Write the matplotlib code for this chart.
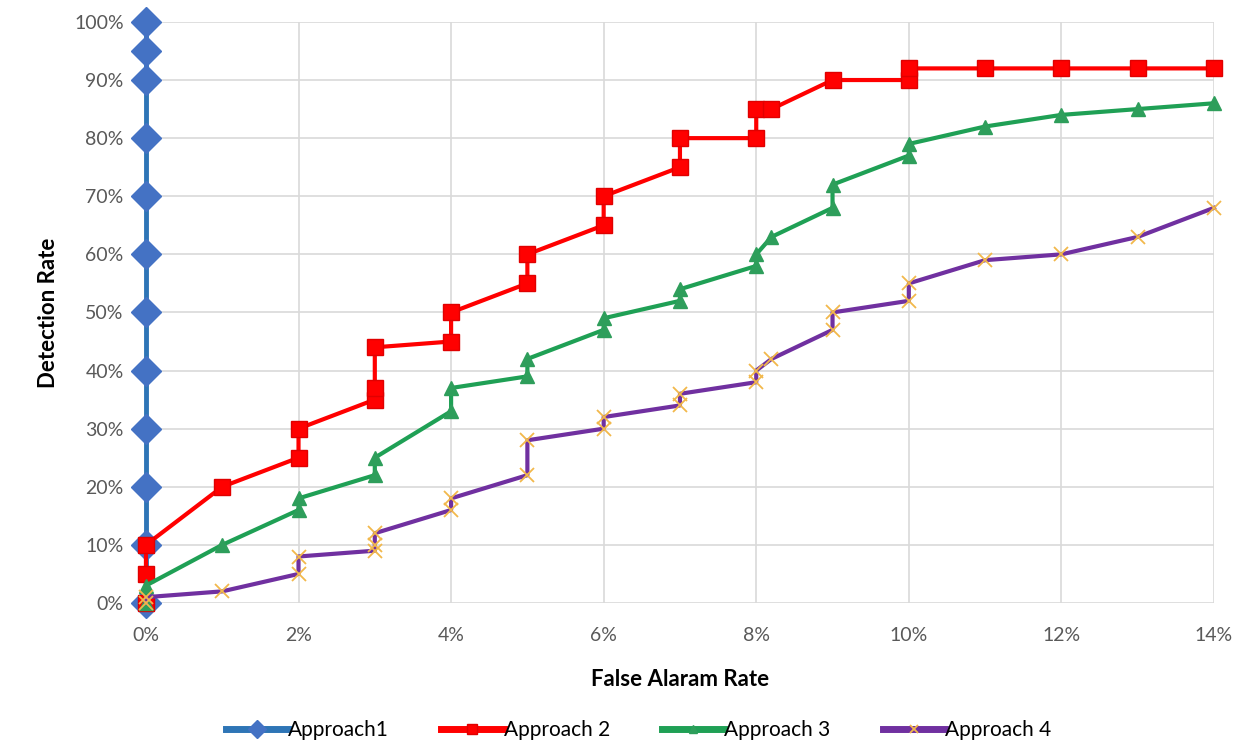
import matplotlib.pyplot as plt
from matplotlib.ticker import PercentFormatter, MultipleLocator

plt.rcParams['font.family'] = ['Lato', 'DejaVu Sans']

# false alarm rate (%) / detection rate (%)
a1_x = [0, 0, 0, 0, 0, 0, 0, 0, 0, 0, 0, 0]
a1_y = [0, 10, 20, 30, 40, 50, 60, 70, 80, 90, 95, 100]

a2_x = [0, 0, 0, 1, 2, 2, 3, 3, 3, 4, 4, 5, 5, 6, 6, 7, 7, 8, 8, 8.2, 9, 10, 10, 11, 12, 13, 14]
a2_y = [0, 5, 10, 20, 25, 30, 35, 37, 44, 45, 50, 55, 60, 65, 70, 75, 80, 80, 85, 85, 90, 90, 92, 92, 92, 92, 92]

a3_x = [0, 0, 1, 2, 2, 3, 3, 4, 4, 5, 5, 6, 6, 7, 7, 8, 8, 8.2, 9, 9, 10, 10, 11, 12, 13, 14]
a3_y = [0, 3, 10, 16, 18, 22, 25, 33, 37, 39, 42, 47, 49, 52, 54, 58, 60, 63, 68, 72, 77, 79, 82, 84, 85, 86]

a4_x = [0, 0, 1, 2, 2, 3, 3, 3, 4, 4, 5, 5, 6, 6, 7, 7, 8, 8, 8.2, 9, 9, 10, 10, 11, 12, 13, 14]
a4_y = [0, 1, 2, 5, 8, 9, 10, 12, 16, 18, 22, 28, 30, 32, 34, 36, 38, 40, 42, 47, 50, 52, 55, 59, 60, 63, 68]

fig = plt.figure(figsize=(12.4, 7.56), dpi=100)
ax = fig.add_axes([0.1177, 0.2024, 0.8613, 0.7686])

ax.plot(a1_x, a1_y, '-', color='#2E75B6', linewidth=3.5, marker='D', markersize=15,
        markerfacecolor='#4472C4', markeredgecolor='#4472C4', label='Approach1', clip_on=False, zorder=3)
ax.plot(a2_x, a2_y, '-', color='#FF0000', linewidth=3, marker='s', markersize=11,
        markerfacecolor='#FF0000', markeredgecolor='#E00000', label='Approach 2', clip_on=False, zorder=4)
ax.plot(a3_x, a3_y, '-', color='#1FA055', linewidth=3, marker='^', markersize=10,
        markerfacecolor='#2E9E5B', markeredgecolor='#2E9E5B', label='Approach 3', clip_on=False, zorder=5)
ax.plot(a4_x, a4_y, '-', color='#7030A0', linewidth=3, marker='x', markersize=10, markeredgewidth=1.3,
        markeredgecolor='#F2B84B', label='Approach 4', clip_on=False, zorder=6)

ax.set_xlim(0, 14)
ax.set_ylim(0, 100)
ax.xaxis.set_major_locator(MultipleLocator(2))
ax.yaxis.set_major_locator(MultipleLocator(10))
ax.xaxis.set_major_formatter(PercentFormatter(decimals=0))
ax.yaxis.set_major_formatter(PercentFormatter(decimals=0))
ax.grid(True, color='#D9D9D9', linewidth=1.2)
ax.set_axisbelow(True)
for s in ax.spines.values():
    s.set_visible(False)
ax.tick_params(length=0, labelsize=14, labelcolor='#595959')
ax.tick_params(axis='y', pad=16)
ax.tick_params(axis='x', pad=17)

ax.set_xlabel('False Alaram Rate', fontsize=16, fontweight='bold', labelpad=18)
ax.set_ylabel('Detection Rate', fontsize=16, fontweight='bold', labelpad=11)

leg = fig.legend(loc='lower center', bbox_to_anchor=(0.515, -0.004), ncol=4, frameon=False,
                 fontsize=15, handlelength=3.0, handletextpad=0.0, columnspacing=2.5, markerscale=0.6)
for line in leg.get_lines():
    line.set_linewidth(5)

plt.savefig('out.png', dpi=100)
plt.close()
